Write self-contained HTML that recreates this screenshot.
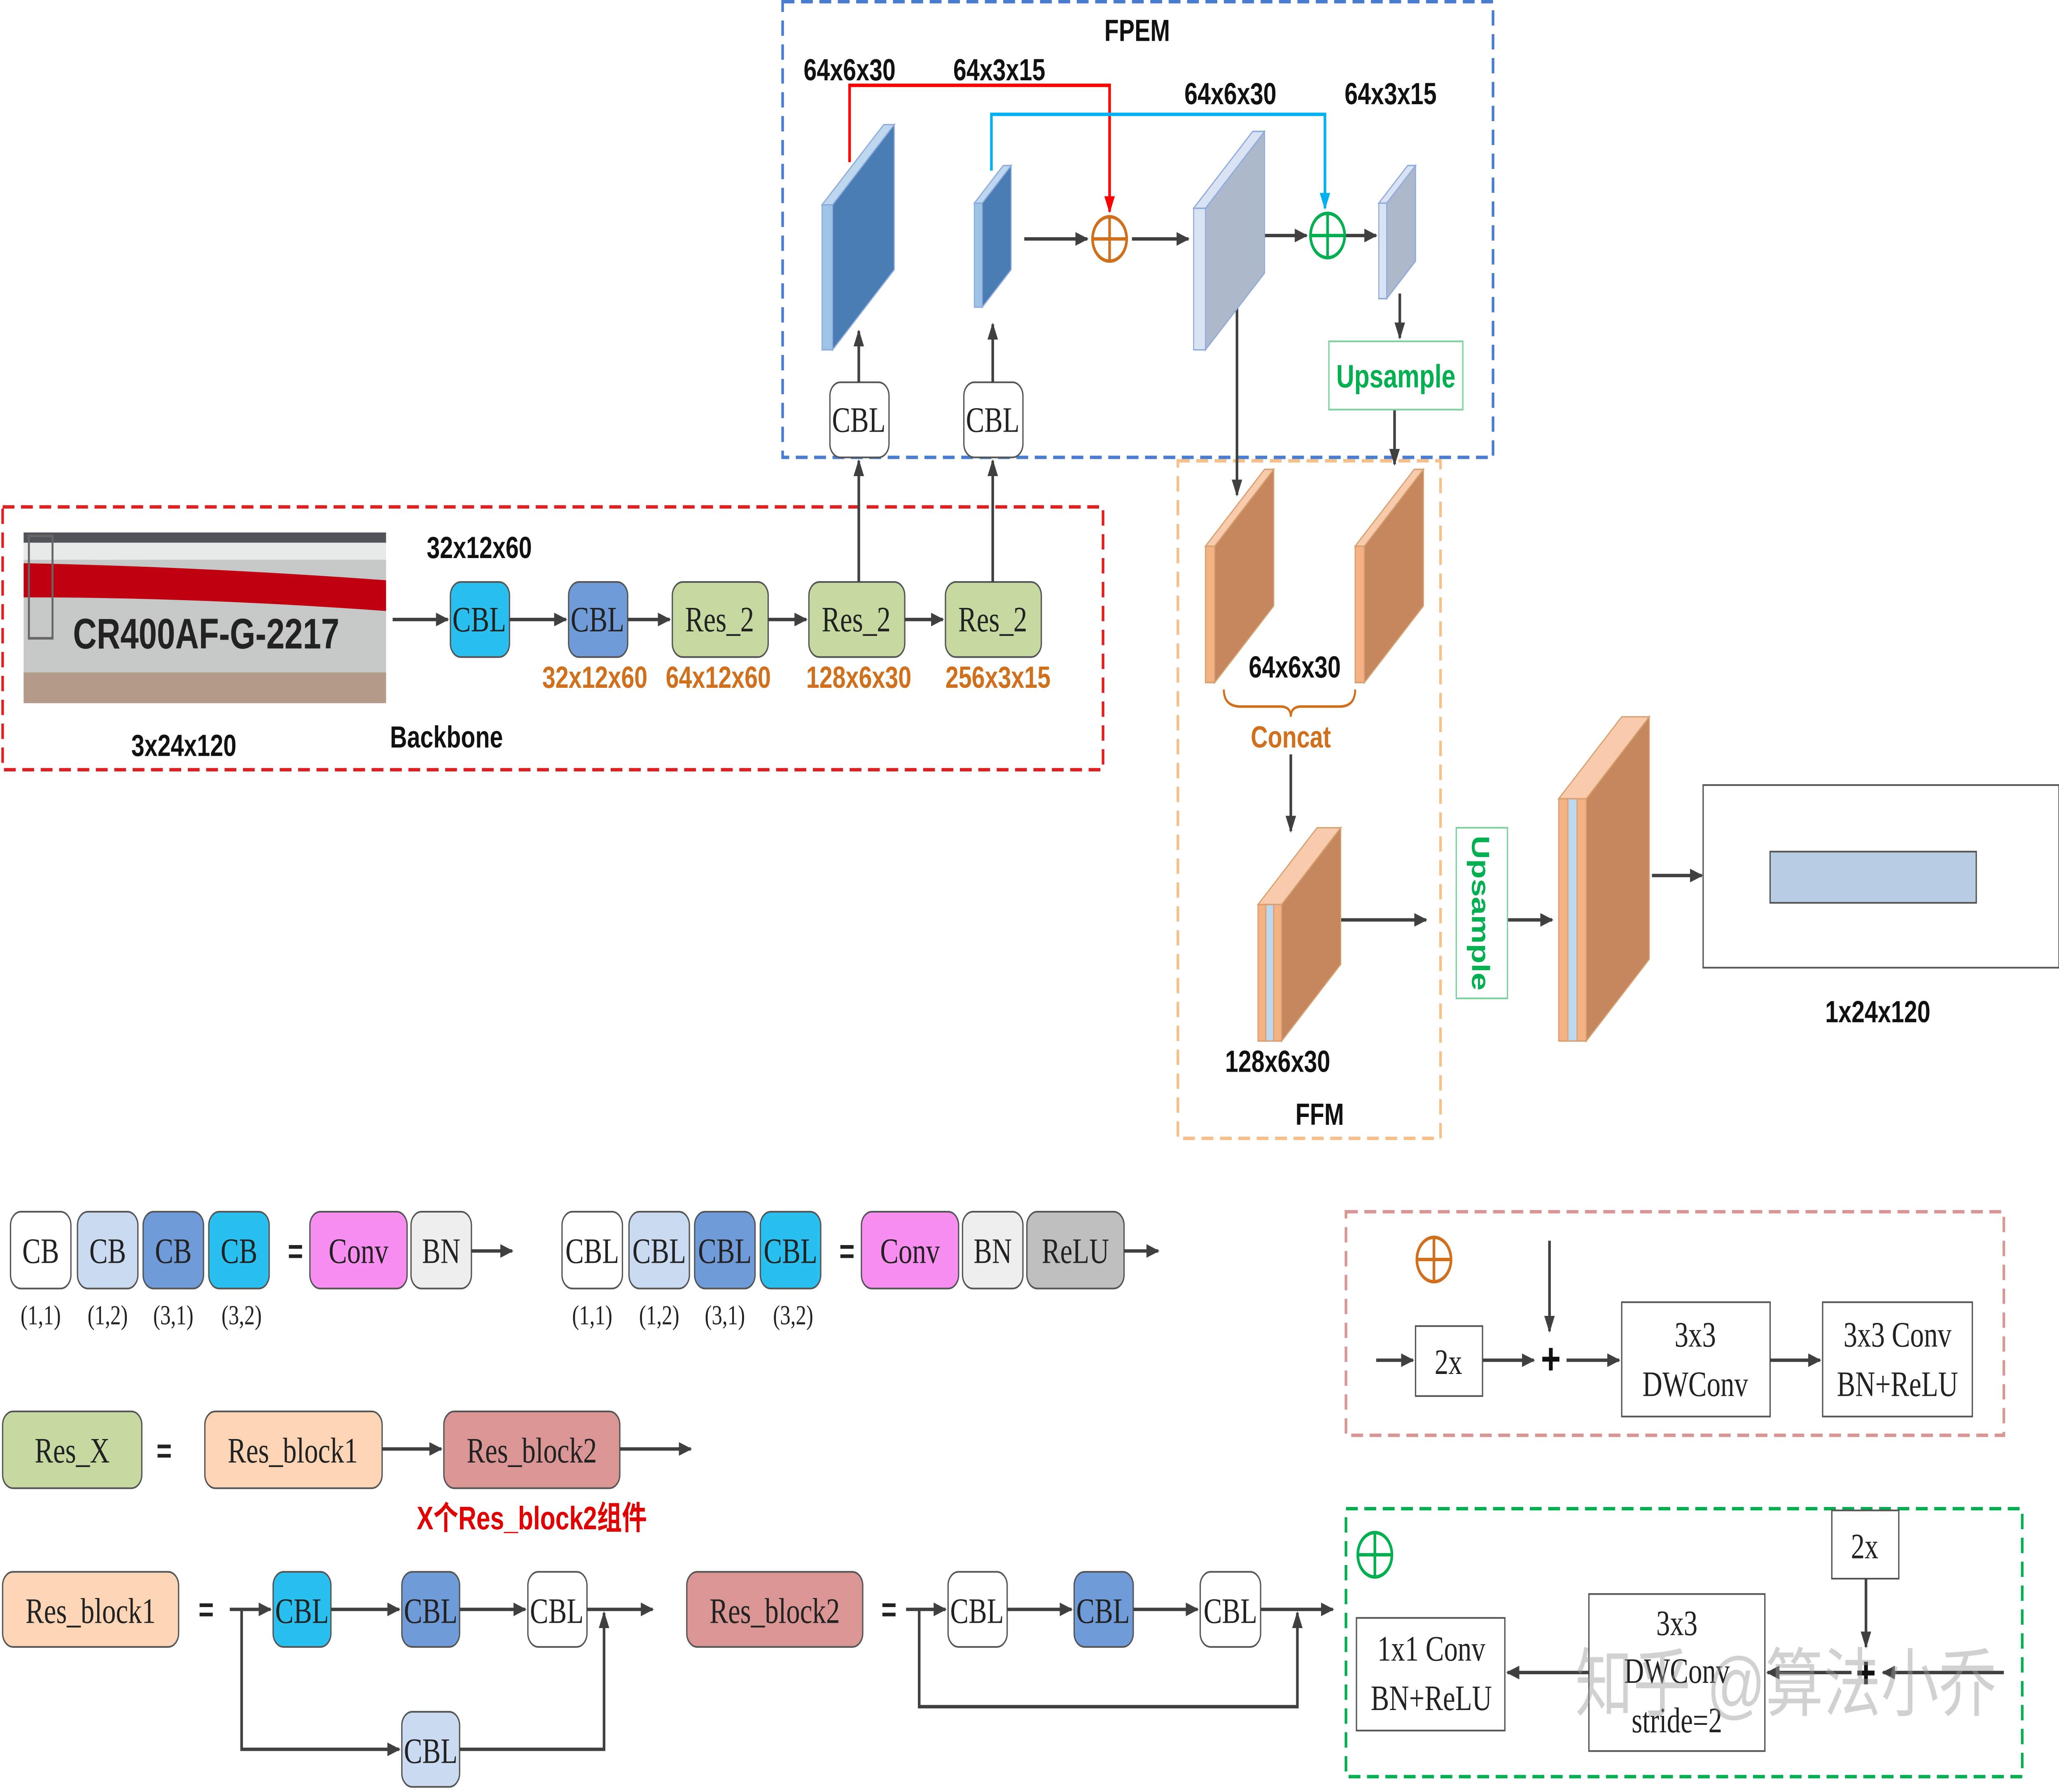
<!DOCTYPE html>
<html><head><meta charset="utf-8"><style>
html,body{margin:0;padding:0;background:#fff;width:100%;height:100%;overflow:hidden;}
svg{display:block;width:100vw;height:100vh;position:absolute;left:0;top:0;}
.b{font-family:"Liberation Sans","Noto Sans CJK SC",sans-serif;font-weight:bold;}
.s{font-family:"Liberation Serif","Noto Serif CJK SC",serif;}
</style></head><body>
<svg viewBox="0 0 1568 1050" preserveAspectRatio="none" xmlns="http://www.w3.org/2000/svg">
<defs>
<marker id="a" markerWidth="10" markerHeight="8" refX="9" refY="4" orient="auto" markerUnits="userSpaceOnUse"><path d="M0,0 L10,4 L0,8 z" fill="#404040"/></marker>
<marker id="ar" markerWidth="10" markerHeight="8" refX="9" refY="4" orient="auto" markerUnits="userSpaceOnUse"><path d="M0,0 L10,4 L0,8 z" fill="#ff0000"/></marker>
<marker id="ab" markerWidth="10" markerHeight="8" refX="9" refY="4" orient="auto" markerUnits="userSpaceOnUse"><path d="M0,0 L10,4 L0,8 z" fill="#00b0f0"/></marker>
</defs>
<rect width="1568" height="1050" fill="#fff"/>

<rect x="596" y="1" width="541" height="267" fill="none" stroke="#4a7dd0" stroke-width="2" stroke-dasharray="9,5"/>
<rect x="2" y="297" width="838" height="154" fill="none" stroke="#e02020" stroke-width="2" stroke-dasharray="9,5"/>
<rect x="897" y="270" width="200" height="397" fill="none" stroke="#f5c08a" stroke-width="2" stroke-dasharray="9,5"/>

<rect x="18" y="312" width="276" height="100" fill="#c6c8c8"/>
<rect x="18" y="312" width="276" height="6" fill="#505458"/>
<rect x="18" y="318" width="276" height="10" fill="#e8eaea"/>
<path d="M18,330 Q150,332 294,340 L294,358 Q150,350 18,350 z" fill="#c00010"/>
<rect x="18" y="394" width="276" height="18" fill="#b49a88"/>
<rect x="22" y="314" width="18" height="60" fill="none" stroke="#666" stroke-width="1.5"/>
<text x="157" y="380" text-anchor="middle" font-family="Liberation Sans Narrow,Liberation Sans,sans-serif" font-weight="bold" font-size="25" fill="#222">CR400AF-G-2217</text>

<g class="b" font-size="18" fill="#111" text-anchor="middle">
<text x="365" y="327">32x12x60</text>
<text x="140" y="443">3x24x120</text>
<text x="340" y="438">Backbone</text>
<text x="866" y="24">FPEM</text>
<text x="647" y="47">64x6x30</text>
<text x="761" y="47">64x3x15</text>
<text x="937" y="61">64x6x30</text>
<text x="1059" y="61">64x3x15</text>
<text x="986" y="397">64x6x30</text>
<text x="973" y="628">128x6x30</text>
<text x="1005" y="659">FFM</text>
<text x="1430" y="599">1x24x120</text>
</g>
<g class="b" font-size="18" fill="#d0701c" text-anchor="middle">
<text x="453" y="403">32x12x60</text>
<text x="547" y="403">64x12x60</text>
<text x="654" y="403">128x6x30</text>
<text x="760" y="403">256x3x15</text>
<text x="983" y="438">Concat</text>
</g>

<g stroke="#555" stroke-width="1">
<rect x="343" y="341" width="45" height="44" rx="8" fill="#29c0f0"/>
<rect x="433" y="341" width="45" height="44" rx="8" fill="#6f9bd8"/>
<rect x="512" y="341" width="73" height="44" rx="8" fill="#c5d9a0"/>
<rect x="616" y="341" width="73" height="44" rx="8" fill="#c5d9a0"/>
<rect x="720" y="341" width="73" height="44" rx="8" fill="#c5d9a0"/>
<rect x="632" y="224" width="45" height="44" rx="8" fill="#fff"/>
<rect x="734" y="224" width="45" height="44" rx="8" fill="#fff"/>
</g>
<g class="s" font-size="21" fill="#222" text-anchor="middle">
<text x="365" y="370">CBL</text><text x="455" y="370">CBL</text>
<text x="548" y="370">Res_2</text><text x="652" y="370">Res_2</text><text x="756" y="370">Res_2</text>
<text x="654" y="253">CBL</text><text x="756" y="253">CBL</text>
</g>
<g stroke="#404040" stroke-width="2" fill="none" marker-end="url(#a)">
<line x1="299" y1="363" x2="341" y2="363"/>
<line x1="388" y1="363" x2="431" y2="363"/>
<line x1="478" y1="363" x2="510" y2="363"/>
<line x1="585" y1="363" x2="614" y2="363"/>
<line x1="689" y1="363" x2="718" y2="363"/>
<line x1="654" y1="341" x2="654" y2="270"/>
<line x1="756" y1="341" x2="756" y2="270"/>
<line x1="654" y1="224" x2="654" y2="194"/>
<line x1="756" y1="224" x2="756" y2="190"/>
<line x1="780" y1="140" x2="828" y2="140"/>
<line x1="862" y1="140" x2="905" y2="140"/>
<line x1="963" y1="138" x2="995" y2="138"/>
<line x1="1025" y1="138" x2="1048" y2="138"/>
<line x1="1066" y1="172" x2="1066" y2="198"/>
<line x1="1062" y1="240" x2="1062" y2="272"/>
<line x1="942" y1="160" x2="942" y2="290"/>
<line x1="983" y1="442" x2="983" y2="487"/>
<line x1="1021" y1="539" x2="1086" y2="539"/>
<line x1="1148" y1="539" x2="1182" y2="539"/>
<line x1="1258" y1="513" x2="1296" y2="513"/>
</g>
<polyline points="647,95 647,50 845,50 845,124" fill="none" stroke="#ff0000" stroke-width="2" marker-end="url(#ar)"/>
<polyline points="755,100 755,67 1009,67 1009,122" fill="none" stroke="#00b0f0" stroke-width="2" marker-end="url(#ab)"/>
<circle cx="845" cy="140" r="13" fill="none" stroke="#d0701c" stroke-width="2"/>
<path d="M832,140 H858 M845,127 V153" stroke="#d0701c" stroke-width="2"/>
<circle cx="1011" cy="138" r="13" fill="none" stroke="#00b050" stroke-width="2"/>
<path d="M998,138 H1024 M1011,125 V151" stroke="#00b050" stroke-width="2"/>

<g stroke="#8faadc" stroke-width="0.8">
<polygon points="634,120 681,73 681,158 634,205" fill="#4a7db4"/>
<polygon points="626,120 634,120 634,205 626,205" fill="#9dc3e6"/>
<polygon points="626,120 673,73 681,73 634,120" fill="#bdd7ee"/>
<polygon points="748,119 770,97 770,158 748,180" fill="#4a7db4"/>
<polygon points="742,119 748,119 748,180 742,180" fill="#9dc3e6"/>
<polygon points="742,119 764,97 770,97 748,119" fill="#bdd7ee"/>
<polygon points="918,122 963,77 963,160 918,205" fill="#adb9ca"/>
<polygon points="909,122 918,122 918,205 909,205" fill="#dae3f3"/>
<polygon points="909,122 954,77 963,77 918,122" fill="#dae3f3"/>
<polygon points="1056,119 1078,97 1078,153 1056,175" fill="#adb9ca"/>
<polygon points="1050,119 1056,119 1056,175 1050,175" fill="#dae3f3"/>
<polygon points="1050,119 1072,97 1078,97 1056,119" fill="#dae3f3"/>
</g>
<g stroke="#d6a070" stroke-width="0.8">
<polygon points="925,320 970,275 970,355 925,400" fill="#c5885e"/>
<polygon points="918,320 925,320 925,400 918,400" fill="#f4b183"/>
<polygon points="918,320 963,275 970,275 925,320" fill="#f8cbad"/>
<polygon points="1039,320 1084,275 1084,355 1039,400" fill="#c5885e"/>
<polygon points="1032,320 1039,320 1039,400 1032,400" fill="#f4b183"/>
<polygon points="1032,320 1077,275 1084,275 1039,320" fill="#f8cbad"/>
<polygon points="958,530 1003,485 1021,485 976,530" fill="#f8cbad"/>
<rect x="958" y="530" width="6" height="80" fill="#f4b183"/>
<rect x="964" y="530" width="6" height="80" fill="#bdd7ee"/>
<rect x="970" y="530" width="6" height="80" fill="#f4b183"/>
<polygon points="976,530 1021,485 1021,565 976,610" fill="#c5885e"/>
<polygon points="1187,468 1235,420 1256,420 1208,468" fill="#f8cbad"/>
<rect x="1187" y="468" width="7" height="142" fill="#f4b183"/>
<rect x="1194" y="468" width="7" height="142" fill="#bdd7ee"/>
<rect x="1201" y="468" width="7" height="142" fill="#f4b183"/>
<polygon points="1208,468 1256,420 1256,562 1208,610" fill="#c5885e"/>
</g>
<path d="M932,404 Q932,414 945,414 L975,414 Q983,414 983,420 Q983,414 991,414 L1020,414 Q1032,414 1032,404" fill="none" stroke="#d0701c" stroke-width="1.5"/>

<rect x="1012" y="200" width="102" height="40" fill="#fff" stroke="#7fd0a0" stroke-width="1"/>
<text x="1063" y="227" class="b" font-size="19" fill="#00b050" text-anchor="middle">Upsample</text>
<rect x="1109" y="485" width="39" height="100" fill="#fff" stroke="#7fd0a0" stroke-width="1"/>
<text transform="translate(1121,535) rotate(90)" class="b" font-size="19" fill="#00b050" text-anchor="middle">Upsample</text>

<rect x="1297" y="460" width="271" height="107" fill="#fff" stroke="#555" stroke-width="1"/>
<rect x="1348" y="499" width="157" height="30" fill="#b8cce4" stroke="#555" stroke-width="1"/>

<g stroke="#555" stroke-width="1">
<rect x="8" y="710" width="46" height="45" rx="8" fill="#fff"/>
<rect x="59" y="710" width="46" height="45" rx="8" fill="#c9daf1"/>
<rect x="109" y="710" width="46" height="45" rx="8" fill="#6f9bd8"/>
<rect x="159" y="710" width="46" height="45" rx="8" fill="#29c0f0"/>
<rect x="236" y="710" width="74" height="45" rx="8" fill="#f78ef0"/>
<rect x="313" y="710" width="46" height="45" rx="8" fill="#eeeeee"/>
<rect x="428" y="710" width="46" height="45" rx="8" fill="#fff"/>
<rect x="479" y="710" width="46" height="45" rx="8" fill="#c9daf1"/>
<rect x="529" y="710" width="46" height="45" rx="8" fill="#6f9bd8"/>
<rect x="579" y="710" width="46" height="45" rx="8" fill="#29c0f0"/>
<rect x="656" y="710" width="74" height="45" rx="8" fill="#f78ef0"/>
<rect x="733" y="710" width="46" height="45" rx="8" fill="#eeeeee"/>
<rect x="782" y="710" width="74" height="45" rx="8" fill="#bfbfbf"/>
<rect x="2" y="827" width="106" height="45" rx="8" fill="#c5d9a0"/>
<rect x="156" y="827" width="135" height="45" rx="8" fill="#fbd5b5"/>
<rect x="338" y="827" width="134" height="45" rx="8" fill="#d99694"/>
<rect x="2" y="921" width="134" height="44" rx="8" fill="#fbd5b5"/>
<rect x="208" y="921" width="44" height="44" rx="8" fill="#29c0f0"/>
<rect x="306" y="921" width="44" height="44" rx="8" fill="#6f9bd8"/>
<rect x="402" y="921" width="45" height="44" rx="8" fill="#fff"/>
<rect x="306" y="1003" width="44" height="44" rx="8" fill="#c9daf1"/>
<rect x="523" y="921" width="134" height="44" rx="8" fill="#d99694"/>
<rect x="722" y="921" width="45" height="44" rx="8" fill="#fff"/>
<rect x="818" y="921" width="45" height="44" rx="8" fill="#6f9bd8"/>
<rect x="914" y="921" width="46" height="44" rx="8" fill="#fff"/>
</g>
<g class="s" font-size="21" fill="#222" text-anchor="middle">
<text x="31" y="740">CB</text><text x="82" y="740">CB</text><text x="132" y="740">CB</text><text x="182" y="740">CB</text>
<text x="273" y="740">Conv</text><text x="336" y="740">BN</text>
<text x="451" y="740">CBL</text><text x="502" y="740">CBL</text><text x="552" y="740">CBL</text><text x="602" y="740">CBL</text>
<text x="693" y="740">Conv</text><text x="756" y="740">BN</text><text x="819" y="740">ReLU</text>
<text x="55" y="857">Res_X</text><text x="223" y="857">Res_block1</text><text x="405" y="857">Res_block2</text>
<text x="69" y="951">Res_block1</text><text x="230" y="951">CBL</text><text x="328" y="951">CBL</text><text x="424" y="951">CBL</text>
<text x="328" y="1033">CBL</text>
<text x="590" y="951">Res_block2</text><text x="744" y="951">CBL</text><text x="840" y="951">CBL</text><text x="937" y="951">CBL</text>
</g>
<g class="s" font-size="16" fill="#222" text-anchor="middle">
<text x="31" y="776">(1,1)</text><text x="82" y="776">(1,2)</text><text x="132" y="776">(3,1)</text><text x="184" y="776">(3,2)</text>
<text x="451" y="776">(1,1)</text><text x="502" y="776">(1,2)</text><text x="552" y="776">(3,1)</text><text x="604" y="776">(3,2)</text>
</g>
<g class="b" font-size="20" fill="#222" text-anchor="middle">
<text x="225" y="740">=</text><text x="645" y="740">=</text><text x="125" y="857">=</text><text x="157" y="950">=</text><text x="677" y="950">=</text>
</g>
<text x="405" y="896" class="b" font-size="19" fill="#e00000" text-anchor="middle">X个Res_block2组件</text>
<g stroke="#404040" stroke-width="2" fill="none" marker-end="url(#a)">
<line x1="359" y1="733" x2="390" y2="733"/>
<line x1="856" y1="733" x2="882" y2="733"/>
<line x1="291" y1="849" x2="336" y2="849"/>
<line x1="472" y1="849" x2="526" y2="849"/>
<line x1="175" y1="943" x2="206" y2="943"/>
<line x1="252" y1="943" x2="304" y2="943"/>
<line x1="350" y1="943" x2="400" y2="943"/>
<line x1="447" y1="943" x2="497" y2="943"/>
<polyline points="184,943 184,1025 304,1025"/>
<polyline points="350,1025 460,1025 460,945"/>
<line x1="690" y1="943" x2="720" y2="943"/>
<line x1="767" y1="943" x2="816" y2="943"/>
<line x1="863" y1="943" x2="912" y2="943"/>
<line x1="960" y1="943" x2="1015" y2="943"/>
<polyline points="700,943 700,1000 988,1000 988,945"/>
</g>

<rect x="1025" y="710" width="501" height="131" fill="none" stroke="#d99694" stroke-width="2" stroke-dasharray="9,5"/>
<rect x="1025" y="884" width="515" height="157" fill="none" stroke="#00b050" stroke-width="2" stroke-dasharray="9,5"/>
<circle cx="1092" cy="738" r="13" fill="none" stroke="#d0701c" stroke-width="2"/>
<path d="M1079,738 H1105 M1092,725 V751" stroke="#d0701c" stroke-width="2"/>
<circle cx="1047" cy="911" r="13" fill="none" stroke="#00b050" stroke-width="2"/>
<path d="M1034,911 H1060 M1047,898 V924" stroke="#00b050" stroke-width="2"/>
<g stroke="#555" stroke-width="1" fill="#fff">
<rect x="1078" y="777" width="51" height="41"/>
<rect x="1235" y="763" width="113" height="67"/>
<rect x="1388" y="763" width="114" height="67"/>
<rect x="1395" y="885" width="51" height="40"/>
<rect x="1210" y="934" width="134" height="92"/>
<rect x="1033" y="948" width="113" height="66"/>
</g>
<g class="s" font-size="21" fill="#222" text-anchor="middle">
<text x="1103" y="805">2x</text>
<text x="1291" y="789">3x3</text><text x="1291" y="818">DWConv</text>
<text x="1445" y="789">3x3 Conv</text><text x="1445" y="818">BN+ReLU</text>
<text x="1420" y="913">2x</text>
<text x="1277" y="958">3x3</text><text x="1277" y="986">DWConv</text><text x="1277" y="1015">stride=2</text>
<text x="1090" y="973">1x1 Conv</text><text x="1090" y="1002">BN+ReLU</text>
</g>
<text x="1181" y="805" class="b" font-size="26" fill="#111" text-anchor="middle">+</text>
<text x="1421" y="989" class="b" font-size="26" fill="#111" text-anchor="middle">+</text>
<g stroke="#404040" stroke-width="2" fill="none" marker-end="url(#a)">
<line x1="1048" y1="797" x2="1076" y2="797"/>
<line x1="1129" y1="797" x2="1168" y2="797"/>
<line x1="1180" y1="727" x2="1180" y2="780"/>
<line x1="1193" y1="797" x2="1233" y2="797"/>
<line x1="1348" y1="797" x2="1386" y2="797"/>
<line x1="1421" y1="925" x2="1421" y2="965"/>
<line x1="1526" y1="980" x2="1434" y2="980"/>
<line x1="1410" y1="980" x2="1346" y2="980"/>
<line x1="1210" y1="980" x2="1148" y2="980"/>
</g>
<text x="1360" y="1002" font-family="Liberation Sans,Noto Sans CJK SC,sans-serif" font-size="44" fill="#999" fill-opacity="0.45" text-anchor="middle">知乎 @算法小乔</text>
</svg>
</body></html>
